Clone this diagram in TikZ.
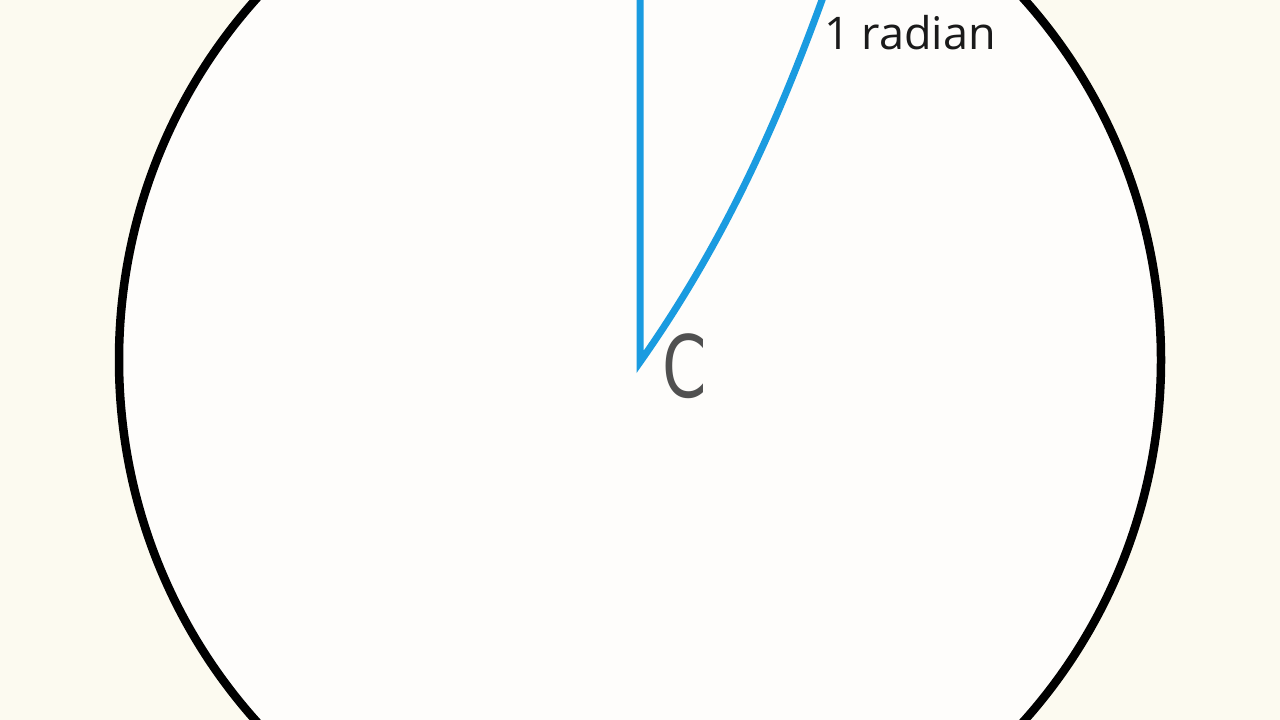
\documentclass[tikz,border=0pt]{standalone}
\usepackage{fontspec}
\setmainfont{Open Sans}
\newfontfamily\glyphfont{DejaVu Sans}
\definecolor{bgcream}{HTML}{FCFAF0}
\definecolor{innerwhite}{HTML}{FEFDFB}
\definecolor{radblue}{HTML}{1A9BE0}
\definecolor{labelink}{HTML}{1A1A1A}
\definecolor{glyphgray}{HTML}{505050}
\tikzset{
  rim/.style={draw=black, line width=8.5pt, fill=innerwhite},
  radline/.style={draw=radblue, line width=7pt, line join=miter},
  radlabel/.style={text=labelink, font=\fontsize{45}{52}\selectfont, inner sep=0pt, anchor=base west},
  centreglyph/.style={text=glyphgray, font=\glyphfont\fontsize{86}{92}\selectfont, inner sep=0pt, xscale=0.74}
}
\begin{document}
\begin{tikzpicture}[x=1pt, y=-1pt]
\useasboundingbox (0,0) rectangle (1280,720);
\fill[bgcream] (0,0) rectangle (1280,720);
\clip (0,0) rectangle (1280,720);
\coordinate (O) at (640,362);
\draw[rim] (640,360) ellipse [x radius=521, y radius=534];
\coordinate (topV) at (640,-20);
\coordinate (arcEnd) at (822,0);
\coordinate (arcOut) at (829,-20);
\draw[radline] (topV) -- (O) .. controls (726,240) and (779,118) .. (arcEnd) -- (arcOut);
\node[radlabel] (lab) at (824,49) {1 radian};
\node[centreglyph] (cg) at (685,366) {C};
\end{tikzpicture}
\end{document}
